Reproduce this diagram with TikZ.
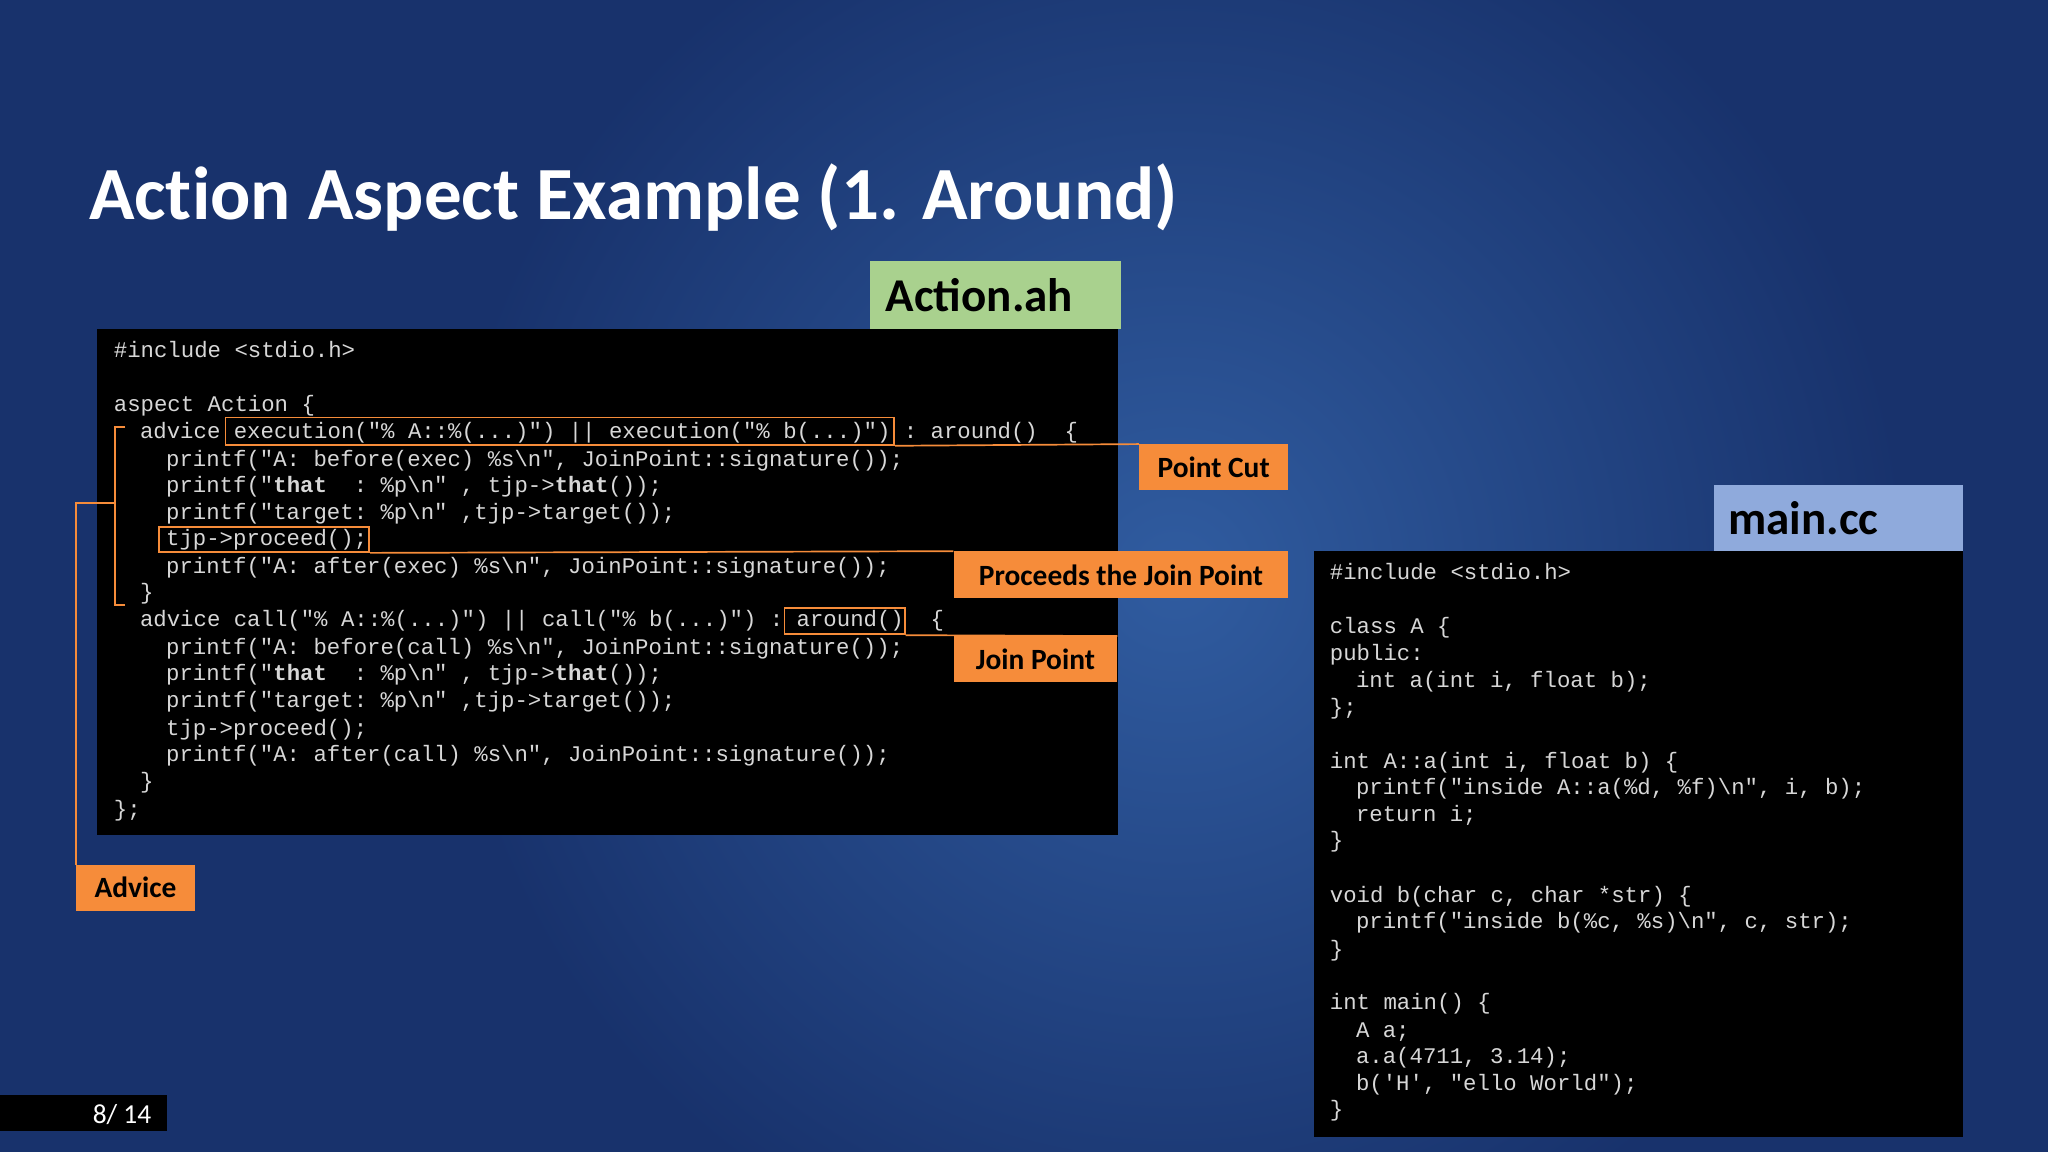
\documentclass[tikz,border=0pt]{standalone}
\usepackage{fontspec}
\setmainfont{Carlito}
\setmonofont{Liberation Mono}
\definecolor{bgd}{RGB}{24,50,108}
\definecolor{bgl}{RGB}{48,92,160}
\definecolor{codec}{RGB}{215,215,215}
\definecolor{org}{RGB}{246,140,58}
\definecolor{grn}{RGB}{169,209,142}
\definecolor{blu}{RGB}{143,170,220}
\tikzset{
 code/.style={anchor=base west,inner sep=0pt,text=codec,font=\ttfamily\fontsize{17.1}{20}\selectfont},
 callout/.style={fill=org,text=black,font=\bfseries\fontsize{22.5}{26}\selectfont,inner sep=0pt,anchor=north west},
 obox/.style={draw=org,line width=1.3pt,inner sep=0pt,anchor=north west},
 oline/.style={draw=org,line width=1.3pt},
 flabel/.style={minimum height=52,inner sep=0pt,text=black,font=\bfseries\fontsize{36}{42}\selectfont},
}
\begin{document}
\begin{tikzpicture}[x=1pt,y=-1pt]
\useasboundingbox (0,0) rectangle (1568,882);
\fill[bgd] (0,0) rectangle (1568,882);
\begin{scope}
\clip (0,0) rectangle (1568,882);
\shade[inner color=bgl,outer color=bgd] (900,440) circle (560);
\end{scope}
\node[anchor=base west,inner sep=0pt,text=white,font=\addfontfeature{Ligatures=NoCommon}\bfseries\fontsize{57.5}{66}\selectfont] (title) at (68,168) {Action Aspect Example (1. Around)};
% left code
\node[fill=black,minimum width=782,minimum height=387,inner sep=0pt,anchor=north west] (lbox) at (74,252) {};
\fill[grn] (666,200) rectangle (858,252);
\node[flabel,anchor=west] (lab1) at (678,226) {Action.ah};
\node[code] (a1) at (87,274) {\#include <stdio.h>};
\node[code] (a3) at (87,315) {aspect Action \{};
\node[code] (a4) at (107,336) {advice execution("\% A::\%(...)") || execution("\% b(...)") : around() \ \{};
\node[code] (a5) at (127,357) {printf("A: before(exec) \%s\textbackslash n", JoinPoint::signature());};
\node[code] (a6) at (127,377) {printf("\textbf{that}\ \ : \%p\textbackslash n" , tjp->\textbf{that}());};
\node[code] (a7) at (127,398) {printf("target: \%p\textbackslash n" ,tjp->target());};
\node[code] (a8) at (127,418) {tjp->proceed();};
\node[code] (a9) at (127,439) {printf("A: after(exec) \%s\textbackslash n", JoinPoint::signature());};
\node[code] (a10) at (107,459) {\}};
\node[code] (a11) at (107,480) {advice call("\% A::\%(...)") || call("\% b(...)") : around() \ \{};
\node[code] (a12) at (127,501) {printf("A: before(call) \%s\textbackslash n", JoinPoint::signature());};
\node[code] (a13) at (127,521) {printf("\textbf{that}\ \ : \%p\textbackslash n" , tjp->\textbf{that}());};
\node[code] (a14) at (127,542) {printf("target: \%p\textbackslash n" ,tjp->target());};
\node[code] (a15) at (127,563) {tjp->proceed();};
\node[code] (a16) at (127,583) {printf("A: after(call) \%s\textbackslash n", JoinPoint::signature());};
\node[code] (a17) at (107,604) {\}};
\node[code] (a18) at (87,625) {\};};
% orange highlight boxes
\node[obox,minimum width=512,minimum height=21] (pcb) at (172,319) {};
\node[obox,minimum width=161,minimum height=19] (prb) at (121,403) {};
\node[obox,minimum width=92,minimum height=20] (jpb) at (600,465) {};
% callouts
\node[callout,minimum width=114,minimum height=35] (pc) at (872,340) {Point Cut};
\node[callout,minimum width=256,minimum height=36] (pr) at (730,422) {Proceeds the Join Point};
\node[callout,minimum width=125,minimum height=35] (jp) at (730,487) {Join Point};
\node[callout,minimum width=91,minimum height=35] (adv) at (58,662) {Advice};
\draw[oline] (pcb.south east) -- (pc.north west);
\draw[oline] (prb.south east) -- (pr.north west);
\draw[oline] (jpb.south east) -- (jp.north east);
\coordinate (bt) at (96,327);
\coordinate (bb) at (96,463);
\coordinate (bm) at (88,385);
\draw[oline] (bt) -- (88,327) -- (88,463) -- (bb);
\draw[oline] (bm) -- (58,385) -- (adv.north west);
% right code
\node[fill=black,minimum width=497,minimum height=448,inner sep=0pt,anchor=north west] (rbox) at (1006,422) {};
\fill[blu] (1312,371) rectangle (1503,422);
\node[flabel,anchor=west] (lab2) at (1323,397) {main.cc};
\node[code] (b1) at (1018,444) {\#include <stdio.h>};
\node[code] (b3) at (1018,485) {class A \{};
\node[code] (b4) at (1018,506) {public:};
\node[code] (b5) at (1038,526) {int a(int i, float b);};
\node[code] (b6) at (1018,547) {\};};
\node[code] (b8) at (1018,588) {int A::a(int i, float b) \{};
\node[code] (b9) at (1038,608) {printf("inside A::a(\%d, \%f)\textbackslash n", i, b);};
\node[code] (b10) at (1038,629) {return i;};
\node[code] (b11) at (1018,649) {\}};
\node[code] (b13) at (1018,691) {void b(char c, char *str) \{};
\node[code] (b14) at (1038,711) {printf("inside b(\%c, \%s)\textbackslash n", c, str);};
\node[code] (b15) at (1018,732) {\}};
\node[code] (b17) at (1018,773) {int main() \{};
\node[code] (b18) at (1038,794) {A a;};
\node[code] (b19) at (1038,814) {a.a(4711, 3.14);};
\node[code] (b20) at (1038,835) {b('H', "ello World");};
\node[code] (b21) at (1018,855) {\}};
% page number
\node[fill=black,minimum width=128,minimum height=28,inner sep=0pt,anchor=north west] (pg) at (0,838) {};
\node[anchor=base east,inner sep=0pt,text=white,font=\fontsize{21}{24}\selectfont] (pgt) at (116,860) {8/ 14};
\end{tikzpicture}
\end{document}
